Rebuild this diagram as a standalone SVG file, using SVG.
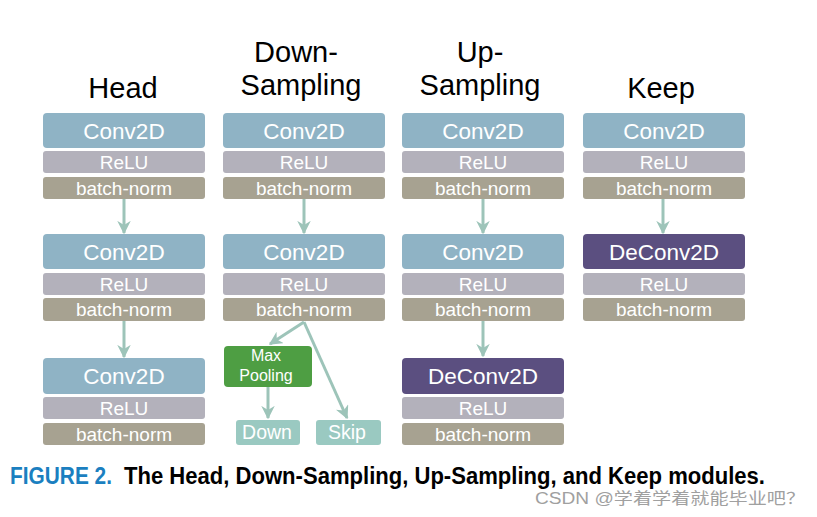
<svg xmlns="http://www.w3.org/2000/svg" width="817" height="517" viewBox="0 0 817 517">
<style>
.t{font-family:"Liberation Sans",Arial,sans-serif;fill:#fff;text-anchor:middle}
.c{fill:#8fb3c5}.r{fill:#b3b1bb}.b{fill:#a7a291}.d{fill:#5b4f80}.m{fill:#4e9e43}.o{fill:#9ac9c1}
.big{font-size:22.5px}.sm{font-size:19px}
.h{font-family:"Liberation Sans",Arial,sans-serif;font-size:29px;fill:#000;text-anchor:middle}
.ln{stroke:#9dc4b9;stroke-width:3;fill:none}
</style>
<defs>
<marker id="ah" viewBox="0 0 10 10" refX="9" refY="5" markerWidth="4.5" markerHeight="4.5" orient="auto" markerUnits="strokeWidth">
<path d="M0,0 L10,5 L0,10 L3,5 z" fill="#9dc4b9"/>
</marker>
</defs>
<rect width="817" height="517" fill="#fff"/>
<text class="h" x="123" y="98">Head</text>
<text class="h" x="296" y="62">Down-</text>
<text class="h" x="301" y="95">Sampling</text>
<text class="h" x="480" y="62">Up-</text>
<text class="h" x="480" y="95">Sampling</text>
<text class="h" x="661" y="98">Keep</text>
<g id="connectors">
<line class="ln" x1="124" y1="199" x2="124" y2="233" marker-end="url(#ah)"/>
<line class="ln" x1="124" y1="321" x2="124" y2="357" marker-end="url(#ah)"/>
<line class="ln" x1="304" y1="199" x2="304" y2="233" marker-end="url(#ah)"/>
<line class="ln" x1="483" y1="199" x2="483" y2="233" marker-end="url(#ah)"/>
<line class="ln" x1="483" y1="321" x2="483" y2="356" marker-end="url(#ah)"/>
<line class="ln" x1="663" y1="199" x2="663" y2="233" marker-end="url(#ah)"/>
<line class="ln" x1="304" y1="322" x2="270" y2="344" marker-end="url(#ah)"/>
<line class="ln" x1="304" y1="322" x2="347" y2="418" marker-end="url(#ah)"/>
<line class="ln" x1="268" y1="387" x2="268" y2="418" marker-end="url(#ah)"/>
</g>
<g id="head1"><rect class="c" x="43" y="113" width="162" height="35" rx="4"/><text class="t big" x="124" y="139">Conv2D</text>
<rect class="r" x="43" y="151" width="162" height="22" rx="3"/><text class="t sm" x="124" y="169">ReLU</text>
<rect class="b" x="43" y="177" width="162" height="22" rx="3"/><text class="t sm" x="124" y="195">batch-norm</text></g>
<g id="head2"><rect class="c" x="43" y="234" width="162" height="35" rx="4"/><text class="t big" x="124" y="260">Conv2D</text>
<rect class="r" x="43" y="273" width="162" height="22" rx="3"/><text class="t sm" x="124" y="291">ReLU</text>
<rect class="b" x="43" y="298" width="162" height="23" rx="3"/><text class="t sm" x="124" y="316">batch-norm</text></g>
<g id="head3"><rect class="c" x="43" y="358" width="162" height="36" rx="4"/><text class="t big" x="124" y="384">Conv2D</text>
<rect class="r" x="43" y="397" width="162" height="22" rx="3"/><text class="t sm" x="124" y="415">ReLU</text>
<rect class="b" x="43" y="423" width="162" height="22" rx="3"/><text class="t sm" x="124" y="441">batch-norm</text></g>
<g id="down1"><rect class="c" x="223" y="113" width="162" height="35" rx="4"/><text class="t big" x="304" y="139">Conv2D</text>
<rect class="r" x="223" y="151" width="162" height="22" rx="3"/><text class="t sm" x="304" y="169">ReLU</text>
<rect class="b" x="223" y="177" width="162" height="22" rx="3"/><text class="t sm" x="304" y="195">batch-norm</text></g>
<g id="down2"><rect class="c" x="223" y="234" width="162" height="35" rx="4"/><text class="t big" x="304" y="260">Conv2D</text>
<rect class="r" x="223" y="273" width="162" height="22" rx="3"/><text class="t sm" x="304" y="291">ReLU</text>
<rect class="b" x="223" y="298" width="162" height="23" rx="3"/><text class="t sm" x="304" y="316">batch-norm</text></g>
<g id="maxpool"><rect class="m" x="224" y="346" width="88" height="41" rx="4"/><text class="t" style="font-size:16px" x="266" y="361">Max</text><text class="t" style="font-size:16px" x="266" y="381">Pooling</text></g>
<g id="downout"><rect class="o" x="236" y="420" width="64" height="25" rx="3"/><text class="t" style="font-size:19.5px" x="267" y="439">Down</text></g>
<g id="skip"><rect class="o" x="316" y="420" width="65" height="25" rx="3"/><text class="t" style="font-size:19.5px" x="347" y="439">Skip</text></g>
<g id="up1"><rect class="c" x="402" y="113" width="162" height="35" rx="4"/><text class="t big" x="483" y="139">Conv2D</text>
<rect class="r" x="402" y="151" width="162" height="22" rx="3"/><text class="t sm" x="483" y="169">ReLU</text>
<rect class="b" x="402" y="177" width="162" height="22" rx="3"/><text class="t sm" x="483" y="195">batch-norm</text></g>
<g id="up2"><rect class="c" x="402" y="234" width="162" height="35" rx="4"/><text class="t big" x="483" y="260">Conv2D</text>
<rect class="r" x="402" y="273" width="162" height="22" rx="3"/><text class="t sm" x="483" y="291">ReLU</text>
<rect class="b" x="402" y="298" width="162" height="23" rx="3"/><text class="t sm" x="483" y="316">batch-norm</text></g>
<g id="up3"><rect class="d" x="402" y="358" width="162" height="36" rx="4"/><text class="t big" x="483" y="384">DeConv2D</text>
<rect class="r" x="402" y="397" width="162" height="22" rx="3"/><text class="t sm" x="483" y="415">ReLU</text>
<rect class="b" x="402" y="423" width="162" height="22" rx="3"/><text class="t sm" x="483" y="441">batch-norm</text></g>
<g id="keep1"><rect class="c" x="583" y="113" width="162" height="35" rx="4"/><text class="t big" x="664" y="139">Conv2D</text>
<rect class="r" x="583" y="151" width="162" height="22" rx="3"/><text class="t sm" x="664" y="169">ReLU</text>
<rect class="b" x="583" y="177" width="162" height="22" rx="3"/><text class="t sm" x="664" y="195">batch-norm</text></g>
<g id="keep2"><rect class="d" x="583" y="234" width="162" height="35" rx="4"/><text class="t big" x="664" y="260">DeConv2D</text>
<rect class="r" x="583" y="273" width="162" height="22" rx="3"/><text class="t sm" x="664" y="291">ReLU</text>
<rect class="b" x="583" y="298" width="162" height="23" rx="3"/><text class="t sm" x="664" y="316">batch-norm</text></g>
<text x="10" y="484" textLength="102" lengthAdjust="spacingAndGlyphs" style="font-family:'Liberation Sans',Arial,sans-serif;font-weight:bold;font-size:23px;fill:#1b7fc0">FIGURE 2.</text>
<text x="124" y="484" textLength="641" lengthAdjust="spacingAndGlyphs" style="font-family:'Liberation Sans',Arial,sans-serif;font-weight:bold;font-size:23px;fill:#000">The Head, Down-Sampling, Up-Sampling, and Keep modules.</text>
<text x="535" y="504" textLength="270" lengthAdjust="spacingAndGlyphs" style="font-family:'Liberation Sans','Noto Sans CJK SC',sans-serif;font-size:16px;fill:#a0a0a0">CSDN @学着学着就能毕业吧？</text>
</svg>
